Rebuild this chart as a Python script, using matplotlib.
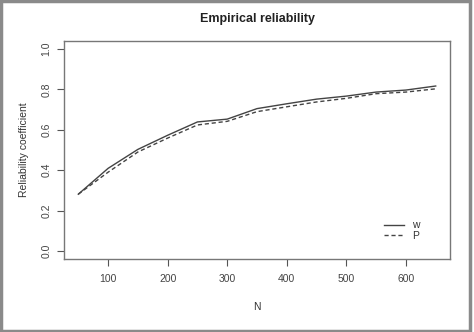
import matplotlib
matplotlib.use("Agg")
import matplotlib.pyplot as plt
from matplotlib.patches import Rectangle

# %% data
n_vals = [50, 100, 150, 200, 250, 300, 350, 400, 450, 500, 550, 600, 650]
rel_w = [0.281, 0.409, 0.503, 0.573, 0.639, 0.653, 0.705, 0.729, 0.752, 0.767, 0.787, 0.797, 0.817]
rel_p = [0.281, 0.390, 0.490, 0.559, 0.624, 0.642, 0.690, 0.714, 0.738, 0.756, 0.779, 0.787, 0.803]
x_ticks = [100, 200, 300, 400, 500, 600]
y_ticks = [0.0, 0.2, 0.4, 0.6, 0.8, 1.0]

plt.rcParams['font.family'] = ['Liberation Sans', 'DejaVu Sans']
grey = '#555555'

fig = plt.figure(figsize=(4.74, 3.32), dpi=100)
ax = fig.add_axes([64/474, 1 - 259/332, (450-64)/474, (259-41)/332])

# %% lines
ax.plot(n_vals, rel_w, color='#444444', lw=1.0, ls='-', label='w')
ax.plot(n_vals, rel_p, color='#444444', lw=1.0, ls=(0, (3, 2)), label='P')

ax.set_xlim(26, 674)
ax.set_ylim(-0.04, 1.04)
ax.set_xticks(x_ticks)
ax.set_yticks(y_ticks)
ax.set_yticklabels([f'{v:.1f}' for v in y_ticks], rotation=90, va='center')
ax.tick_params(colors=grey, labelcolor='#444444', labelsize=7.5, length=5, width=0.8)
ax.tick_params(axis='x', pad=6)
ax.tick_params(axis='y', pad=4)
for s in ax.spines.values():
    s.set_color('#777777')
    s.set_linewidth(1.0)

ax.set_title('Empirical reliability', fontsize=9, fontweight='bold', color='#222222', pad=14)
ax.set_xlabel('N', fontsize=7.5, color='#333333', labelpad=13)
ax.set_ylabel('Reliability coefficient', fontsize=7.5, color='#333333', labelpad=9)

leg = ax.legend(loc='lower right', bbox_to_anchor=(0.945, 0.04), frameon=False,
                fontsize=7.5, handlelength=1.9, handletextpad=0.8, labelspacing=0.05)
for t in leg.get_texts():
    t.set_color('#333333')

# grey frame around the whole image
fig.patches.append(Rectangle((0.002, 0.004), 0.99, 0.992, transform=fig.transFigure,
                             fill=False, edgecolor='#8a8a8a', lw=2.5))

fig.savefig('out.png', dpi=100)
